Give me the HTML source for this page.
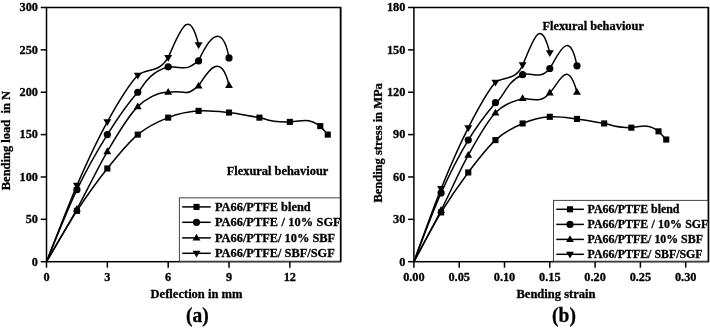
<!DOCTYPE html><html><head><meta charset="utf-8"><title>Flexural behaviour</title>
<style>html,body{margin:0;padding:0;background:#fff}svg{display:block}text{font-family:"Liberation Serif","DejaVu Serif",serif;font-weight:bold;fill:#000;stroke:#000;stroke-width:0.3px}</style></head><body>
<svg width="710" height="328" viewBox="0 0 710 328">
<rect width="710" height="328" fill="#fff"/>
<g fill="none" stroke="#000" stroke-width="1.5">
<rect x="46.50" y="7.50" width="294.10" height="254.20"/>
<path d="M40.70 261.70 H46.50"/>
<path d="M40.70 219.33 H46.50"/>
<path d="M40.70 176.97 H46.50"/>
<path d="M40.70 134.60 H46.50"/>
<path d="M40.70 92.23 H46.50"/>
<path d="M40.70 49.87 H46.50"/>
<path d="M40.70 7.50 H46.50"/>
<path d="M46.50 261.70 V267.70"/>
<path d="M107.34 261.70 V267.70"/>
<path d="M168.18 261.70 V267.70"/>
<path d="M229.02 261.70 V267.70"/>
<path d="M289.86 261.70 V267.70"/>
</g>
<text xml:space="preserve" transform="translate(38.00 265.55) scale(1 1.09)" font-size="12.3" text-anchor="end">0</text>
<text xml:space="preserve" transform="translate(38.00 223.18) scale(1 1.09)" font-size="12.3" text-anchor="end">50</text>
<text xml:space="preserve" transform="translate(38.00 180.82) scale(1 1.09)" font-size="12.3" text-anchor="end">100</text>
<text xml:space="preserve" transform="translate(38.00 138.45) scale(1 1.09)" font-size="12.3" text-anchor="end">150</text>
<text xml:space="preserve" transform="translate(38.00 96.08) scale(1 1.09)" font-size="12.3" text-anchor="end">200</text>
<text xml:space="preserve" transform="translate(38.00 53.72) scale(1 1.09)" font-size="12.3" text-anchor="end">250</text>
<text xml:space="preserve" transform="translate(38.00 11.35) scale(1 1.09)" font-size="12.3" text-anchor="end">300</text>
<text xml:space="preserve" transform="translate(46.50 280.50) scale(1 1.09)" font-size="12.3" text-anchor="middle">0</text>
<text xml:space="preserve" transform="translate(107.34 280.50) scale(1 1.09)" font-size="12.3" text-anchor="middle">3</text>
<text xml:space="preserve" transform="translate(168.18 280.50) scale(1 1.09)" font-size="12.3" text-anchor="middle">6</text>
<text xml:space="preserve" transform="translate(229.02 280.50) scale(1 1.09)" font-size="12.3" text-anchor="middle">9</text>
<text xml:space="preserve" transform="translate(289.86 280.50) scale(1 1.09)" font-size="12.3" text-anchor="middle">12</text>
<path d="M46.50 261.70 C51.57 253.23 66.78 226.39 76.92 210.86 C87.06 195.33 97.20 181.20 107.34 168.49 C117.48 155.78 127.62 143.07 137.76 134.60 C147.90 126.13 158.04 121.61 168.18 117.65 C178.32 113.70 188.46 111.72 198.60 110.87 C208.74 110.03 218.88 111.44 229.02 112.57 C239.16 113.70 249.30 116.10 259.44 117.65 C264.21 117.60 267.13 122.53 289.86 121.89 C305.18 120.93 307.52 117.83 320.28 126.13 L327.78 134.60" fill="none" stroke="#000" stroke-width="1.5" stroke-linejoin="round"/>
<g fill="#000"><rect x="73.87" y="207.81" width="6.1" height="6.1"/><rect x="104.29" y="165.44" width="6.1" height="6.1"/><rect x="134.71" y="131.55" width="6.1" height="6.1"/><rect x="165.13" y="114.60" width="6.1" height="6.1"/><rect x="195.55" y="107.82" width="6.1" height="6.1"/><rect x="225.97" y="109.52" width="6.1" height="6.1"/><rect x="256.39" y="114.60" width="6.1" height="6.1"/><rect x="286.81" y="118.84" width="6.1" height="6.1"/><rect x="317.23" y="123.08" width="6.1" height="6.1"/><rect x="324.73" y="131.55" width="6.1" height="6.1"/></g>
<path d="M46.50 261.70 C51.57 249.70 66.78 210.86 76.92 189.68 C87.06 168.49 97.20 150.84 107.34 134.60 C117.48 118.36 127.62 103.53 137.76 92.23 C142.77 88.46 145.83 73.84 168.18 66.81 C186.86 67.49 184.98 70.99 198.60 60.88 C216.70 20.74 225.32 37.24 229.02 57.92" fill="none" stroke="#000" stroke-width="1.5" stroke-linejoin="round"/>
<g fill="#000"><circle cx="76.92" cy="189.68" r="3.6"/><circle cx="107.34" cy="134.60" r="3.6"/><circle cx="137.76" cy="92.23" r="3.6"/><circle cx="168.18" cy="66.81" r="3.6"/><circle cx="198.60" cy="60.88" r="3.6"/><circle cx="229.02" cy="57.92" r="3.6"/></g>
<path d="M46.50 261.70 C51.57 252.94 66.78 227.52 76.92 209.17 C87.06 190.81 97.20 168.63 107.34 151.55 C117.48 134.46 127.62 116.52 137.76 106.64 C145.35 99.05 157.08 92.13 168.18 92.23 C190.25 90.09 183.70 97.43 198.60 85.88 C204.47 77.59 219.89 46.28 229.02 85.45" fill="none" stroke="#000" stroke-width="1.5" stroke-linejoin="round"/>
<g fill="#000"><path d="M72.97 211.77 L80.87 211.77 L76.92 204.97 Z"/><path d="M103.39 154.15 L111.29 154.15 L107.34 147.35 Z"/><path d="M133.81 109.24 L141.71 109.24 L137.76 102.44 Z"/><path d="M164.23 94.83 L172.13 94.83 L168.18 88.03 Z"/><path d="M194.65 88.48 L202.55 88.48 L198.60 81.68 Z"/><path d="M225.07 88.05 L232.97 88.05 L229.02 81.25 Z"/></g>
<path d="M46.50 261.70 C51.57 248.99 66.78 208.74 76.92 185.44 C87.06 162.14 97.20 140.25 107.34 121.89 C117.48 103.53 127.62 86.02 137.76 75.29 C147.02 67.45 158.44 74.03 168.18 57.49 C180.13 31.32 188.77 4.53 198.60 44.78" fill="none" stroke="#000" stroke-width="1.5" stroke-linejoin="round"/>
<g fill="#000"><path d="M72.97 182.84 L80.87 182.84 L76.92 189.64 Z"/><path d="M103.39 119.29 L111.29 119.29 L107.34 126.09 Z"/><path d="M133.81 72.69 L141.71 72.69 L137.76 79.49 Z"/><path d="M164.23 54.89 L172.13 54.89 L168.18 61.69 Z"/><path d="M194.65 42.18 L202.55 42.18 L198.60 48.98 Z"/></g>
<text xml:space="preserve" transform="translate(10.30 140.60) rotate(-90) scale(1 1.03)" font-size="12.5" text-anchor="middle">Bending load  in N</text>
<text xml:space="preserve" transform="translate(196.50 297.70) scale(1 1.03)" font-size="12.55" text-anchor="middle">Deflection in mm</text>
<text xml:space="preserve" transform="translate(197.30 322.00) scale(1 1.03)" font-size="19.5" text-anchor="middle">(a)</text>
<text xml:space="preserve" transform="translate(226.75 175.30) scale(1 1.03)" font-size="12.4">Flexural behaviour</text>
<rect x="179.40" y="197.85" width="161.20" height="63.35" fill="#fff" stroke="#444" stroke-width="1"/>
<path d="M182.20 206.90 H210.75" stroke="#000" stroke-width="1.5"/>
<rect x="193.45" y="203.85" width="6.1" height="6.1"/>
<text xml:space="preserve" transform="translate(214.90 210.75) scale(1 1.03)" font-size="12.4">PA66/PTFE blend</text>
<path d="M182.20 222.30 H210.75" stroke="#000" stroke-width="1.5"/>
<circle cx="196.50" cy="222.30" r="3.6"/>
<text word-spacing="0.35" xml:space="preserve" transform="translate(214.90 226.15) scale(1 1.03)" font-size="12.4">PA66/PTFE / 10% SGF</text>
<path d="M182.20 237.90 H210.75" stroke="#000" stroke-width="1.5"/>
<path d="M192.55 240.50 L200.45 240.50 L196.50 233.70 Z"/>
<text xml:space="preserve" transform="translate(214.90 241.75) scale(1 1.03)" font-size="12.4">PA66/PTFE/ 10% SBF</text>
<path d="M182.20 253.30 H210.75" stroke="#000" stroke-width="1.5"/>
<path d="M192.55 250.70 L200.45 250.70 L196.50 257.50 Z"/>
<text xml:space="preserve" transform="translate(214.90 257.15) scale(1 1.03)" font-size="12.4">PA66/PTFE/ SBF/SGF</text>
<path d="M340.60 7.50 V261.70" stroke="#000" stroke-width="1.5"/>
<g fill="none" stroke="#000" stroke-width="1.5">
<rect x="413.90" y="7.50" width="294.50" height="254.20"/>
<path d="M408.10 261.70 H413.90"/>
<path d="M408.10 219.33 H413.90"/>
<path d="M408.10 176.97 H413.90"/>
<path d="M408.10 134.60 H413.90"/>
<path d="M408.10 92.23 H413.90"/>
<path d="M408.10 49.87 H413.90"/>
<path d="M408.10 7.50 H413.90"/>
<path d="M413.90 261.70 V267.70"/>
<path d="M459.20 261.70 V267.70"/>
<path d="M504.50 261.70 V267.70"/>
<path d="M549.80 261.70 V267.70"/>
<path d="M595.10 261.70 V267.70"/>
<path d="M640.40 261.70 V267.70"/>
<path d="M685.70 261.70 V267.70"/>
</g>
<text xml:space="preserve" transform="translate(405.40 265.55) scale(1 1.09)" font-size="12.3" text-anchor="end">0</text>
<text xml:space="preserve" transform="translate(405.40 223.18) scale(1 1.09)" font-size="12.3" text-anchor="end">30</text>
<text xml:space="preserve" transform="translate(405.40 180.82) scale(1 1.09)" font-size="12.3" text-anchor="end">60</text>
<text xml:space="preserve" transform="translate(405.40 138.45) scale(1 1.09)" font-size="12.3" text-anchor="end">90</text>
<text xml:space="preserve" transform="translate(405.40 96.08) scale(1 1.09)" font-size="12.3" text-anchor="end">120</text>
<text xml:space="preserve" transform="translate(405.40 53.72) scale(1 1.09)" font-size="12.3" text-anchor="end">150</text>
<text xml:space="preserve" transform="translate(405.40 11.35) scale(1 1.09)" font-size="12.3" text-anchor="end">180</text>
<text xml:space="preserve" transform="translate(413.90 280.50) scale(1 1.09)" font-size="12.3" text-anchor="middle">0.00</text>
<text xml:space="preserve" transform="translate(459.20 280.50) scale(1 1.09)" font-size="12.3" text-anchor="middle">0.05</text>
<text xml:space="preserve" transform="translate(504.50 280.50) scale(1 1.09)" font-size="12.3" text-anchor="middle">0.10</text>
<text xml:space="preserve" transform="translate(549.80 280.50) scale(1 1.09)" font-size="12.3" text-anchor="middle">0.15</text>
<text xml:space="preserve" transform="translate(595.10 280.50) scale(1 1.09)" font-size="12.3" text-anchor="middle">0.20</text>
<text xml:space="preserve" transform="translate(640.40 280.50) scale(1 1.09)" font-size="12.3" text-anchor="middle">0.25</text>
<text xml:space="preserve" transform="translate(685.70 280.50) scale(1 1.09)" font-size="12.3" text-anchor="middle">0.30</text>
<path d="M413.90 261.70 C418.43 253.49 432.02 227.29 441.08 212.41 C450.14 197.54 459.20 184.50 468.26 172.45 C477.32 160.40 486.38 148.28 495.44 140.11 C504.50 131.94 513.56 127.33 522.62 123.44 C531.68 119.56 540.74 117.56 549.80 116.81 C558.86 116.05 567.92 117.82 576.98 118.92 C586.04 120.03 595.10 121.98 604.16 123.44 C608.65 123.22 611.91 127.67 631.34 127.68 C644.26 125.35 650.74 124.80 658.52 131.35 L666.22 139.54" fill="none" stroke="#000" stroke-width="1.5" stroke-linejoin="round"/>
<g fill="#000"><rect x="438.03" y="209.36" width="6.1" height="6.1"/><rect x="465.21" y="169.40" width="6.1" height="6.1"/><rect x="492.39" y="137.06" width="6.1" height="6.1"/><rect x="519.57" y="120.39" width="6.1" height="6.1"/><rect x="546.75" y="113.76" width="6.1" height="6.1"/><rect x="573.93" y="115.87" width="6.1" height="6.1"/><rect x="601.11" y="120.39" width="6.1" height="6.1"/><rect x="628.29" y="124.63" width="6.1" height="6.1"/><rect x="655.47" y="128.30" width="6.1" height="6.1"/><rect x="663.17" y="136.49" width="6.1" height="6.1"/></g>
<path d="M413.90 261.70 C418.43 250.24 432.02 213.19 441.08 192.92 C450.14 172.66 459.20 155.15 468.26 140.11 C477.32 125.07 486.38 113.58 495.44 102.68 C502.95 99.68 505.53 81.79 522.62 74.72 C530.44 71.01 539.96 81.06 549.80 68.51 C558.78 53.41 569.37 26.97 576.98 65.82" fill="none" stroke="#000" stroke-width="1.5" stroke-linejoin="round"/>
<g fill="#000"><circle cx="441.08" cy="192.92" r="3.6"/><circle cx="468.26" cy="140.11" r="3.6"/><circle cx="495.44" cy="102.68" r="3.6"/><circle cx="522.62" cy="74.72" r="3.6"/><circle cx="549.80" cy="68.51" r="3.6"/><circle cx="576.98" cy="65.82" r="3.6"/></g>
<path d="M413.90 261.70 C418.43 253.13 432.02 228.04 441.08 210.30 C450.14 192.55 459.20 171.46 468.26 155.22 C477.32 138.98 486.38 122.31 495.44 112.85 C504.50 103.39 513.56 101.79 522.62 98.45 C537.17 100.29 542.44 101.78 549.80 92.80 C559.40 83.31 567.13 56.86 576.98 92.23" fill="none" stroke="#000" stroke-width="1.5" stroke-linejoin="round"/>
<g fill="#000"><path d="M437.13 212.90 L445.03 212.90 L441.08 206.10 Z"/><path d="M464.31 157.82 L472.21 157.82 L468.26 151.02 Z"/><path d="M491.49 115.45 L499.39 115.45 L495.44 108.65 Z"/><path d="M518.67 101.05 L526.57 101.05 L522.62 94.25 Z"/><path d="M545.85 95.40 L553.75 95.40 L549.80 88.60 Z"/><path d="M573.03 94.83 L580.93 94.83 L576.98 88.03 Z"/></g>
<path d="M413.90 261.70 C418.43 249.53 432.02 211.00 441.08 188.69 C450.14 166.37 459.20 145.54 468.26 127.82 C477.32 110.10 486.38 92.85 495.44 82.35 C502.09 76.96 517.02 80.38 522.62 64.84 C532.60 43.80 539.61 12.72 549.80 52.83" fill="none" stroke="#000" stroke-width="1.5" stroke-linejoin="round"/>
<g fill="#000"><path d="M437.13 186.09 L445.03 186.09 L441.08 192.89 Z"/><path d="M464.31 125.22 L472.21 125.22 L468.26 132.02 Z"/><path d="M491.49 79.75 L499.39 79.75 L495.44 86.55 Z"/><path d="M518.67 62.24 L526.57 62.24 L522.62 69.04 Z"/><path d="M545.85 50.23 L553.75 50.23 L549.80 57.03 Z"/></g>
<text xml:space="preserve" transform="translate(382.30 142.90) rotate(-90) scale(1 1.03)" font-size="12.5" text-anchor="middle">Bending stress in MPa</text>
<text xml:space="preserve" transform="translate(556.00 297.70) scale(1 1.03)" font-size="12.55" text-anchor="middle">Bending strain</text>
<text xml:space="preserve" transform="translate(564.00 322.00) scale(1 1.03)" font-size="19.5" text-anchor="middle">(b)</text>
<text xml:space="preserve" transform="translate(542.40 30.10) scale(1 1.03)" font-size="12.4">Flexural behaviour</text>
<rect x="553.50" y="200.40" width="154.90" height="60.80" fill="#fff" stroke="#444" stroke-width="1"/>
<path d="M556.30 209.30 H583.90" stroke="#000" stroke-width="1.5"/>
<rect x="566.95" y="206.25" width="6.1" height="6.1"/>
<text xml:space="preserve" transform="translate(587.60 213.30) scale(1 1.03)" font-size="11.9">PA66/PTFE blend</text>
<path d="M556.30 224.40 H583.90" stroke="#000" stroke-width="1.5"/>
<circle cx="570.00" cy="224.40" r="3.6"/>
<text word-spacing="0.35" xml:space="preserve" transform="translate(587.60 228.40) scale(1 1.03)" font-size="11.9">PA66/PTFE / 10% SGF</text>
<path d="M556.30 239.40 H583.90" stroke="#000" stroke-width="1.5"/>
<path d="M566.05 242.00 L573.95 242.00 L570.00 235.20 Z"/>
<text xml:space="preserve" transform="translate(587.60 243.40) scale(1 1.03)" font-size="11.9">PA66/PTFE/ 10% SBF</text>
<path d="M556.30 254.30 H583.90" stroke="#000" stroke-width="1.5"/>
<path d="M566.05 251.70 L573.95 251.70 L570.00 258.50 Z"/>
<text xml:space="preserve" transform="translate(587.60 258.30) scale(1 1.03)" font-size="11.9">PA66/PTFE/ SBF/SGF</text>
<path d="M708.40 7.50 V261.70" stroke="#000" stroke-width="1.5"/>
</svg></body></html>
